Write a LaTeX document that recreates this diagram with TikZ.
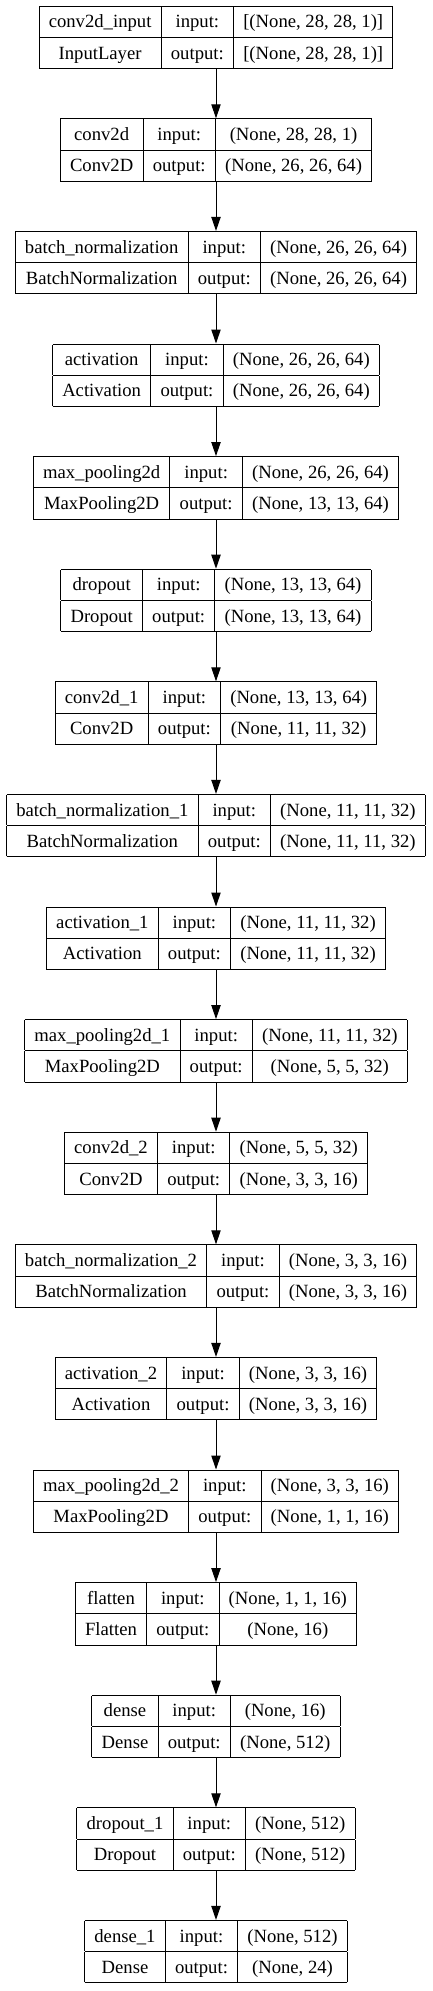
\documentclass[tikz,border=0pt]{standalone}
\usepackage{fontspec}
\setmainfont{Liberation Serif}
\usepackage{tikz}
\usetikzlibrary{positioning,arrows.meta}

\setlength{\arrayrulewidth}{0.75pt}
\setlength{\tabcolsep}{7.3pt}
\renewcommand{\arraystretch}{1.335}

\newcommand{\layerbox}[4]{%
  \begin{tabular}{|c|c|c|}\hline
    #1 & input: & #3 \\\hline
    #2 & output: & #4 \\\hline
  \end{tabular}}

\tikzset{
  layer/.style={inner sep=0pt, outer sep=0pt, font=\fontsize{14}{17}\selectfont},
  flow/.style={line width=0.75pt, -{Triangle[length=10.5pt,width=7pt]}}
}

\begin{document}
\begin{tikzpicture}[node distance=36.81pt]
              \useasboundingbox (0,0) rectangle (324pt,-1493.25pt);
              \node[layer] (input) at (162pt,-28.1pt)
                {\layerbox{conv2d\_input}{InputLayer}{[(None, 28, 28, 1)]}{[(None, 28, 28, 1)]}};
              \node[layer, below=of input] (conv)
                {\layerbox{conv2d}{Conv2D}{(None, 28, 28, 1)}{(None, 26, 26, 64)}};
              \node[layer, below=of conv] (bn)
                {\layerbox{batch\_normalization}{BatchNormalization}{(None, 26, 26, 64)}{(None, 26, 26, 64)}};
              \node[layer, below=of bn] (act)
                {\layerbox{activation}{Activation}{(None, 26, 26, 64)}{(None, 26, 26, 64)}};
              \node[layer, below=of act] (pool)
                {\layerbox{max\_pooling2d}{MaxPooling2D}{(None, 26, 26, 64)}{(None, 13, 13, 64)}};
              \node[layer, below=of pool] (drop)
                {\layerbox{dropout}{Dropout}{(None, 13, 13, 64)}{(None, 13, 13, 64)}};
              \node[layer, below=of drop] (convA)
                {\layerbox{conv2d\_1}{Conv2D}{(None, 13, 13, 64)}{(None, 11, 11, 32)}};
              \node[layer, below=of convA] (bnA)
                {\layerbox{batch\_normalization\_1}{BatchNormalization}{(None, 11, 11, 32)}{(None, 11, 11, 32)}};
              \node[layer, below=of bnA] (actA)
                {\layerbox{activation\_1}{Activation}{(None, 11, 11, 32)}{(None, 11, 11, 32)}};
              \node[layer, below=of actA] (poolA)
                {\layerbox{max\_pooling2d\_1}{MaxPooling2D}{(None, 11, 11, 32)}{(None, 5, 5, 32)}};
              \node[layer, below=of poolA] (convB)
                {\layerbox{conv2d\_2}{Conv2D}{(None, 5, 5, 32)}{(None, 3, 3, 16)}};
              \node[layer, below=of convB] (bnB)
                {\layerbox{batch\_normalization\_2}{BatchNormalization}{(None, 3, 3, 16)}{(None, 3, 3, 16)}};
              \node[layer, below=of bnB] (actB)
                {\layerbox{activation\_2}{Activation}{(None, 3, 3, 16)}{(None, 3, 3, 16)}};
              \node[layer, below=of actB] (poolB)
                {\layerbox{max\_pooling2d\_2}{MaxPooling2D}{(None, 3, 3, 16)}{(None, 1, 1, 16)}};
              \node[layer, below=of poolB] (flat)
                {\layerbox{flatten}{Flatten}{(None, 1, 1, 16)}{(None, 16)}};
              \node[layer, below=of flat] (dense)
                {\layerbox{dense}{Dense}{(None, 16)}{(None, 512)}};
              \node[layer, below=of dense] (dropA)
                {\layerbox{dropout\_1}{Dropout}{(None, 512)}{(None, 512)}};
              \node[layer, below=of dropA] (denseA)
                {\layerbox{dense\_1}{Dense}{(None, 512)}{(None, 24)}};

              \draw[flow] (input) -- (conv);
              \draw[flow] (conv) -- (bn);
              \draw[flow] (bn) -- (act);
              \draw[flow] (act) -- (pool);
              \draw[flow] (pool) -- (drop);
              \draw[flow] (drop) -- (convA);
              \draw[flow] (convA) -- (bnA);
              \draw[flow] (bnA) -- (actA);
              \draw[flow] (actA) -- (poolA);
              \draw[flow] (poolA) -- (convB);
              \draw[flow] (convB) -- (bnB);
              \draw[flow] (bnB) -- (actB);
              \draw[flow] (actB) -- (poolB);
              \draw[flow] (poolB) -- (flat);
              \draw[flow] (flat) -- (dense);
              \draw[flow] (dense) -- (dropA);
              \draw[flow] (dropA) -- (denseA);
            \end{tikzpicture}
\end{document}
